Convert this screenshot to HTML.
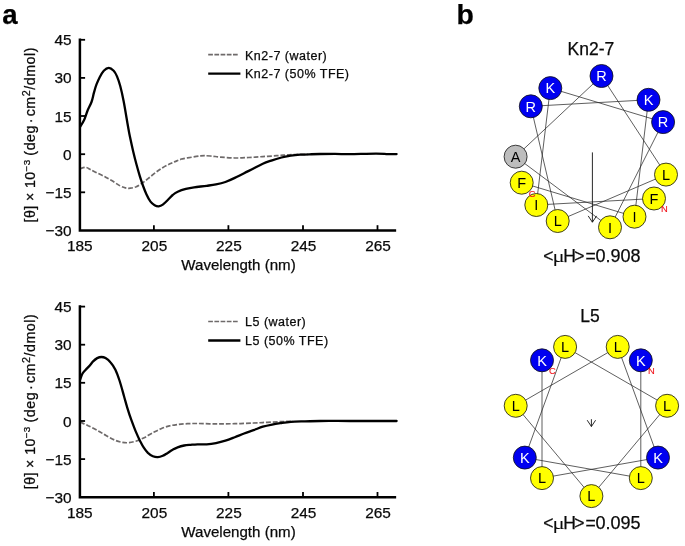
<!DOCTYPE html>
<html><head><meta charset="utf-8"><title>CD spectra and helical wheels</title>
<style>
html,body{margin:0;padding:0;background:#fff}
svg{display:block}
text{font-family:"Liberation Sans",sans-serif;fill:#0a0a0a;stroke:#0a0a0a;stroke-width:0.25px}
.t{font-size:15.4px}
.l{font-size:15.1px}
.yl{font-size:14.2px;letter-spacing:0.55px}
.g{font-size:12.5px;letter-spacing:0.5px}
.w{font-size:14.5px;stroke:none}
.nc{font-size:9.4px;fill:#f01018;stroke:#f01018;stroke-width:0.1px}
.h{font-size:17.5px}
.mu{font-family:"Liberation Serif",serif;font-size:17.5px;stroke:none}
.p{font-size:28.4px;font-weight:bold;fill:#000}
</style></head><body>
<svg width="685" height="546" viewBox="0 0 685 546">
<rect width="685" height="546" fill="#fff"/>
<text x="2.2" y="24.4" class="p" style="font-size:27.6px">a</text>
<text x="456.6" y="24.4" class="p">b</text>
<path d="M79.9 168.7C80.9 168.5 84.2 167.2 86.0 167.4C87.8 167.6 88.9 168.9 91.0 169.9C93.1 170.9 96.0 172.4 98.4 173.6C100.9 174.8 103.3 175.9 105.7 177.2C108.1 178.5 110.6 179.8 113.0 181.3C115.4 182.8 118.2 184.9 120.3 186.0C122.4 187.1 123.7 187.5 125.4 187.9C127.1 188.3 128.7 188.4 130.5 188.2C132.3 188.0 134.4 187.5 136.3 186.7C138.2 185.8 140.2 184.4 142.2 183.1C144.1 181.8 145.8 180.4 148.0 178.7C150.2 177.0 152.9 174.6 155.3 172.8C157.7 171.0 160.2 169.2 162.6 167.7C165.0 166.2 167.8 164.8 169.9 163.8C172.0 162.8 172.9 162.4 175.0 161.6C177.1 160.8 179.7 159.6 182.6 158.8C185.5 158.1 189.6 157.6 192.5 157.1C195.4 156.6 197.9 156.2 199.9 156.0C201.9 155.8 202.5 155.7 204.4 155.7C206.3 155.7 208.7 155.9 211.4 156.1C214.1 156.3 216.8 156.8 220.7 157.1C224.6 157.4 230.1 157.9 234.8 158.0C239.5 158.1 244.1 157.7 248.8 157.5C253.5 157.3 258.1 156.9 262.8 156.6C267.5 156.3 272.9 156.0 276.8 155.7C280.7 155.4 283.1 155.2 286.2 155.0C289.3 154.8 291.9 154.6 295.5 154.5C299.1 154.4 305.9 154.3 308.0 154.3" fill="none" stroke="#6e6a6a" stroke-width="1.7" stroke-dasharray="4.8 1.9"/>
<path d="M80.2 126.8C80.8 125.7 82.9 122.7 84.1 120.1C85.3 117.5 86.2 114.0 87.4 111.0C88.6 108.0 90.4 105.0 91.5 102.0C92.6 99.0 93.1 95.8 93.9 92.9C94.7 90.0 95.4 87.3 96.4 84.7C97.4 82.1 98.5 79.5 99.7 77.2C100.9 74.9 102.3 72.3 103.8 70.7C105.3 69.1 107.1 67.8 108.8 67.8C110.5 67.8 112.3 69.3 113.7 70.7C115.1 72.1 115.9 73.8 117.0 76.4C118.1 79.0 119.2 82.2 120.3 86.3C121.4 90.4 122.4 94.9 123.6 101.0C124.8 107.1 126.4 117.1 127.4 123.0C128.5 128.9 128.9 131.8 129.9 136.5C130.9 141.2 132.1 146.7 133.2 151.4C134.3 156.1 135.4 160.4 136.5 164.5C137.6 168.6 138.7 172.5 139.8 176.1C140.9 179.7 142.0 183.0 143.1 186.0C144.2 189.0 145.2 191.6 146.4 194.2C147.6 196.8 149.1 199.8 150.5 201.6C151.9 203.4 153.2 204.4 154.6 205.2C156.0 206.0 157.3 206.4 158.7 206.3C160.1 206.2 161.3 205.7 162.8 204.6C164.3 203.5 166.2 201.6 167.8 200.0C169.5 198.4 171.0 196.4 172.7 195.0C174.3 193.6 175.5 192.7 177.7 191.7C179.9 190.7 183.2 189.6 185.9 188.9C188.6 188.2 190.6 187.8 194.1 187.3C197.6 186.8 203.0 186.3 206.7 185.8C210.3 185.3 212.9 185.0 216.0 184.4C219.1 183.8 222.3 183.1 225.4 182.0C228.5 180.9 231.7 179.4 234.8 177.9C237.9 176.4 241.0 174.8 244.1 173.2C247.2 171.6 250.4 170.1 253.5 168.5C256.6 166.9 259.7 165.2 262.8 163.8C265.9 162.4 269.0 161.4 272.1 160.3C275.2 159.2 278.4 158.3 281.5 157.5C284.6 156.7 287.7 156.2 290.8 155.7C293.9 155.2 297.1 154.9 300.2 154.7C303.3 154.5 306.2 154.4 309.5 154.3C312.8 154.2 315.8 154.1 320.0 154.0C324.2 153.9 330.0 153.9 335.0 153.9C340.0 153.9 343.2 154.2 350.0 154.2C356.8 154.1 369.7 153.6 376.0 153.6C382.3 153.6 384.6 154.1 388.0 154.2C391.4 154.3 395.2 154.1 396.6 154.1" fill="none" stroke="#000" stroke-width="2.3" stroke-linejoin="round" stroke-linecap="round"/>
<path d="M79.9 39.8V230.4H394.9" fill="none" stroke="#000" stroke-width="2.5" stroke-linecap="square"/>
<path d="M79.9 39.8h5.2" stroke="#000" stroke-width="1.8"/>
<text x="71.5" y="45.3" text-anchor="end" class="t">45</text>
<path d="M79.9 77.9h5.2" stroke="#000" stroke-width="1.8"/>
<text x="71.5" y="83.4" text-anchor="end" class="t">30</text>
<path d="M79.9 116.0h5.2" stroke="#000" stroke-width="1.8"/>
<text x="71.5" y="121.5" text-anchor="end" class="t">15</text>
<path d="M79.9 154.2h5.2" stroke="#000" stroke-width="1.8"/>
<text x="71.5" y="159.7" text-anchor="end" class="t">0</text>
<path d="M79.9 192.3h5.2" stroke="#000" stroke-width="1.8"/>
<text x="71.5" y="197.8" text-anchor="end" class="t">−15</text>
<text x="71.5" y="235.9" text-anchor="end" class="t">−30</text>
<text x="79.8" y="251.4" text-anchor="middle" class="t">185</text>
<path d="M153.9 230.4v-5.2" stroke="#000" stroke-width="1.8"/>
<text x="154.4" y="251.4" text-anchor="middle" class="t">205</text>
<path d="M228.4 230.4v-5.2" stroke="#000" stroke-width="1.8"/>
<text x="228.9" y="251.4" text-anchor="middle" class="t">225</text>
<path d="M303.0 230.4v-5.2" stroke="#000" stroke-width="1.8"/>
<text x="303.5" y="251.4" text-anchor="middle" class="t">245</text>
<path d="M377.5 230.4v-5.2" stroke="#000" stroke-width="1.8"/>
<text x="378.0" y="251.4" text-anchor="middle" class="t">265</text>
<text x="238.5" y="270.0" text-anchor="middle" class="l">Wavelength (nm)</text>
<text transform="translate(34.8 222.4) rotate(-90)" class="yl" style="letter-spacing:0.4px">[θ] × 10<tspan dy="-5" font-size="9.8">−3</tspan></text>
<text transform="translate(34.8 47.0) rotate(-90)" text-anchor="end" class="yl" style="letter-spacing:0.55px">(deg · cm<tspan dy="-5" font-size="10.8">2</tspan><tspan dy="5">/dmol)</tspan></text>
<path d="M208.2 54.7h29.5" stroke="#6e6a6a" stroke-width="1.7" stroke-dasharray="4.7 1.5"/>
<path d="M208.2 73.7h32.2" stroke="#000" stroke-width="2.3"/>
<text x="245" y="59.6" class="g">Kn2-7 (water)</text>
<text x="245" y="78.3" class="g">Kn2-7 (50% TFE)</text>
<path d="M80.2 422.1C81.5 422.7 85.2 424.2 88.2 425.7C91.2 427.1 95.0 429.2 98.0 430.8C101.0 432.4 103.2 433.9 106.0 435.5C108.8 437.1 112.4 439.1 115.0 440.2C117.6 441.3 119.4 441.8 121.6 442.2C123.8 442.6 125.7 442.9 128.2 442.7C130.7 442.5 133.7 441.9 136.4 441.0C139.2 440.1 141.9 438.8 144.7 437.4C147.4 436.0 150.2 434.2 152.9 432.8C155.6 431.4 158.3 429.9 161.1 428.7C163.8 427.5 166.7 426.6 169.4 425.9C172.2 425.2 174.6 424.9 177.6 424.5C180.6 424.1 184.2 423.9 187.5 423.7C190.8 423.5 192.7 423.5 197.4 423.5C202.2 423.5 209.8 423.9 216.0 423.9C222.2 423.9 228.6 423.8 234.8 423.7C241.1 423.6 248.1 423.2 253.5 423.0C258.9 422.8 262.8 422.5 267.5 422.3C272.2 422.1 277.2 421.8 281.5 421.6C285.8 421.4 291.1 421.3 293.0 421.2" fill="none" stroke="#6e6a6a" stroke-width="1.7" stroke-dasharray="4.8 1.9"/>
<path d="M80.2 379.5C80.6 378.6 81.5 375.4 82.4 373.8C83.3 372.2 84.5 371.1 85.7 369.7C86.9 368.3 88.6 366.9 89.8 365.5C91.0 364.1 91.9 362.6 93.1 361.4C94.3 360.2 95.8 358.8 97.2 358.1C98.6 357.4 100.0 357.0 101.4 357.0C102.8 357.0 104.0 357.2 105.5 358.1C107.0 359.0 108.8 360.3 110.4 362.2C112.1 364.1 113.9 366.6 115.4 369.7C116.9 372.8 118.0 376.0 119.5 380.5C121.0 385.0 122.8 391.9 124.1 396.5C125.4 401.1 126.2 404.1 127.4 408.1C128.6 412.1 130.1 416.6 131.5 420.4C132.9 424.2 134.2 427.8 135.6 431.1C137.0 434.4 138.3 437.4 139.7 440.2C141.1 442.9 142.4 445.5 143.8 447.6C145.2 449.7 146.4 451.4 147.9 452.9C149.4 454.3 151.2 455.6 152.9 456.3C154.6 457.0 156.2 457.3 157.8 457.2C159.5 457.1 161.2 456.5 162.8 455.8C164.5 455.1 166.0 453.9 167.7 452.9C169.3 451.9 171.0 450.6 172.7 449.7C174.3 448.8 175.7 448.0 177.6 447.3C179.5 446.6 182.0 445.9 184.2 445.5C186.4 445.1 188.6 445.0 190.8 444.8C193.0 444.6 194.8 444.4 197.4 444.3C200.1 444.2 203.6 444.5 206.7 444.3C209.8 444.1 212.9 443.7 216.0 443.1C219.1 442.5 222.3 441.7 225.4 440.7C228.5 439.7 231.7 438.4 234.8 437.2C237.9 436.0 241.0 434.7 244.1 433.5C247.2 432.3 250.4 431.3 253.5 430.2C256.6 429.1 259.7 427.6 262.8 426.7C265.9 425.8 269.0 425.2 272.1 424.6C275.2 424.0 278.4 423.5 281.5 423.0C284.6 422.5 286.9 422.1 290.8 421.8C294.7 421.5 300.0 421.5 304.9 421.4C309.8 421.3 312.5 421.1 320.0 421.0C327.5 420.9 337.2 421.0 350.0 421.0C362.8 421.0 388.8 421.0 396.6 421.0" fill="none" stroke="#000" stroke-width="2.3" stroke-linejoin="round" stroke-linecap="round"/>
<path d="M79.9 306.6V497.2H394.9" fill="none" stroke="#000" stroke-width="2.5" stroke-linecap="square"/>
<path d="M79.9 306.6h5.2" stroke="#000" stroke-width="1.8"/>
<text x="71.5" y="312.1" text-anchor="end" class="t">45</text>
<path d="M79.9 344.7h5.2" stroke="#000" stroke-width="1.8"/>
<text x="71.5" y="350.2" text-anchor="end" class="t">30</text>
<path d="M79.9 382.8h5.2" stroke="#000" stroke-width="1.8"/>
<text x="71.5" y="388.3" text-anchor="end" class="t">15</text>
<path d="M79.9 421.0h5.2" stroke="#000" stroke-width="1.8"/>
<text x="71.5" y="426.5" text-anchor="end" class="t">0</text>
<path d="M79.9 459.1h5.2" stroke="#000" stroke-width="1.8"/>
<text x="71.5" y="464.6" text-anchor="end" class="t">−15</text>
<text x="71.5" y="502.7" text-anchor="end" class="t">−30</text>
<text x="79.8" y="518.2" text-anchor="middle" class="t">185</text>
<path d="M153.9 497.2v-5.2" stroke="#000" stroke-width="1.8"/>
<text x="154.4" y="518.2" text-anchor="middle" class="t">205</text>
<path d="M228.4 497.2v-5.2" stroke="#000" stroke-width="1.8"/>
<text x="228.9" y="518.2" text-anchor="middle" class="t">225</text>
<path d="M303.0 497.2v-5.2" stroke="#000" stroke-width="1.8"/>
<text x="303.5" y="518.2" text-anchor="middle" class="t">245</text>
<path d="M377.5 497.2v-5.2" stroke="#000" stroke-width="1.8"/>
<text x="378.0" y="518.2" text-anchor="middle" class="t">265</text>
<text x="238.5" y="536.8" text-anchor="middle" class="l">Wavelength (nm)</text>
<text transform="translate(34.8 489.2) rotate(-90)" class="yl" style="letter-spacing:0.4px">[θ] × 10<tspan dy="-5" font-size="9.8">−3</tspan></text>
<text transform="translate(34.8 313.8) rotate(-90)" text-anchor="end" class="yl" style="letter-spacing:0.55px">(deg · cm<tspan dy="-5" font-size="10.8">2</tspan><tspan dy="5">/dmol)</tspan></text>
<path d="M208.2 321.5h29.5" stroke="#6e6a6a" stroke-width="1.7" stroke-dasharray="4.7 1.5"/>
<path d="M208.2 340.5h32.2" stroke="#000" stroke-width="2.3"/>
<text x="245" y="326.4" class="g">L5 (water)</text>
<text x="245" y="345.1" class="g">L5 (50% TFE)</text>
<path d="M654.0 198.5L536.3 205.0L550.3 88.1L663.1 122.1L610.0 227.3L515.6 156.7L601.5 76.0L666.0 174.6L557.7 221.0L530.8 106.3L648.5 99.8L634.5 216.7L521.7 182.7" fill="none" stroke="#2a2a2a" stroke-width="0.75" stroke-linejoin="round"/>
<path d="M592.4 152.4V222.2M588.2 215.9L592.4 222.2L596.6 215.9" fill="none" stroke="#111" stroke-width="0.9"/>
<circle cx="654.0" cy="198.5" r="11.5" fill="#ffff00" stroke="#111" stroke-width="0.8"/>
<text x="654.0" y="203.7" text-anchor="middle" class="w" style="fill:#000">F</text>
<circle cx="536.3" cy="205.0" r="11.5" fill="#ffff00" stroke="#111" stroke-width="0.8"/>
<text x="536.3" y="210.2" text-anchor="middle" class="w" style="fill:#000">I</text>
<circle cx="550.3" cy="88.1" r="11.5" fill="#0000f0" stroke="#111" stroke-width="0.8"/>
<text x="550.3" y="93.3" text-anchor="middle" class="w" style="fill:#fff">K</text>
<circle cx="663.1" cy="122.1" r="11.5" fill="#0000f0" stroke="#111" stroke-width="0.8"/>
<text x="663.1" y="127.3" text-anchor="middle" class="w" style="fill:#fff">R</text>
<circle cx="610.0" cy="227.3" r="11.5" fill="#ffff00" stroke="#111" stroke-width="0.8"/>
<text x="610.0" y="232.5" text-anchor="middle" class="w" style="fill:#000">I</text>
<circle cx="515.6" cy="156.7" r="11.5" fill="#bdbdbd" stroke="#111" stroke-width="0.8"/>
<text x="515.6" y="161.9" text-anchor="middle" class="w" style="fill:#000">A</text>
<circle cx="601.5" cy="76.0" r="11.5" fill="#0000f0" stroke="#111" stroke-width="0.8"/>
<text x="601.5" y="81.2" text-anchor="middle" class="w" style="fill:#fff">R</text>
<circle cx="666.0" cy="174.6" r="11.5" fill="#ffff00" stroke="#111" stroke-width="0.8"/>
<text x="666.0" y="179.8" text-anchor="middle" class="w" style="fill:#000">L</text>
<circle cx="557.7" cy="221.0" r="11.5" fill="#ffff00" stroke="#111" stroke-width="0.8"/>
<text x="557.7" y="226.2" text-anchor="middle" class="w" style="fill:#000">L</text>
<circle cx="530.8" cy="106.3" r="11.5" fill="#0000f0" stroke="#111" stroke-width="0.8"/>
<text x="530.8" y="111.5" text-anchor="middle" class="w" style="fill:#fff">R</text>
<circle cx="648.5" cy="99.8" r="11.5" fill="#0000f0" stroke="#111" stroke-width="0.8"/>
<text x="648.5" y="105.0" text-anchor="middle" class="w" style="fill:#fff">K</text>
<circle cx="634.5" cy="216.7" r="11.5" fill="#ffff00" stroke="#111" stroke-width="0.8"/>
<text x="634.5" y="221.9" text-anchor="middle" class="w" style="fill:#000">I</text>
<circle cx="521.7" cy="182.7" r="11.5" fill="#ffff00" stroke="#111" stroke-width="0.8"/>
<text x="521.7" y="187.9" text-anchor="middle" class="w" style="fill:#000">F</text>
<text x="664.5" y="212.3" text-anchor="middle" class="nc">N</text>
<text x="532.2" y="196.5" text-anchor="middle" class="nc">C</text>
<text x="590.9" y="54.8" text-anchor="middle" class="h">Kn2-7</text>
<text y="261.8" class="h"><tspan x="543.2">&lt;</tspan><tspan x="563.2">H</tspan><tspan x="574.2">&gt;</tspan><tspan x="585.4">=</tspan><tspan x="595.4" font-size="18">0.908</tspan></text>
<text transform="translate(552.6 261.8) scale(1.3 1)" class="mu">μ</text>
<path d="M640.8 360.3L640.8 478.1L524.8 457.6L565.1 346.9L667.1 405.8L591.4 496.1L515.7 405.8L617.7 346.9L658.0 457.6L542.0 478.1L542.0 360.3" fill="none" stroke="#2a2a2a" stroke-width="0.75" stroke-linejoin="round"/>
<path d="M591.4 419.2V426.5M587.2 420.2L591.4 426.5L595.6 420.2" fill="none" stroke="#111" stroke-width="0.9"/>
<circle cx="640.8" cy="360.3" r="11.5" fill="#0000f0" stroke="#111" stroke-width="0.8"/>
<text x="640.8" y="365.5" text-anchor="middle" class="w" style="fill:#fff">K</text>
<circle cx="640.8" cy="478.1" r="11.5" fill="#ffff00" stroke="#111" stroke-width="0.8"/>
<text x="640.8" y="483.3" text-anchor="middle" class="w" style="fill:#000">L</text>
<circle cx="524.8" cy="457.6" r="11.5" fill="#0000f0" stroke="#111" stroke-width="0.8"/>
<text x="524.8" y="462.8" text-anchor="middle" class="w" style="fill:#fff">K</text>
<circle cx="565.1" cy="346.9" r="11.5" fill="#ffff00" stroke="#111" stroke-width="0.8"/>
<text x="565.1" y="352.1" text-anchor="middle" class="w" style="fill:#000">L</text>
<circle cx="667.1" cy="405.8" r="11.5" fill="#ffff00" stroke="#111" stroke-width="0.8"/>
<text x="667.1" y="411.0" text-anchor="middle" class="w" style="fill:#000">L</text>
<circle cx="591.4" cy="496.1" r="11.5" fill="#ffff00" stroke="#111" stroke-width="0.8"/>
<text x="591.4" y="501.3" text-anchor="middle" class="w" style="fill:#000">L</text>
<circle cx="515.7" cy="405.8" r="11.5" fill="#ffff00" stroke="#111" stroke-width="0.8"/>
<text x="515.7" y="411.0" text-anchor="middle" class="w" style="fill:#000">L</text>
<circle cx="617.7" cy="346.9" r="11.5" fill="#ffff00" stroke="#111" stroke-width="0.8"/>
<text x="617.7" y="352.1" text-anchor="middle" class="w" style="fill:#000">L</text>
<circle cx="658.0" cy="457.6" r="11.5" fill="#0000f0" stroke="#111" stroke-width="0.8"/>
<text x="658.0" y="462.8" text-anchor="middle" class="w" style="fill:#fff">K</text>
<circle cx="542.0" cy="478.1" r="11.5" fill="#ffff00" stroke="#111" stroke-width="0.8"/>
<text x="542.0" y="483.3" text-anchor="middle" class="w" style="fill:#000">L</text>
<circle cx="542.0" cy="360.3" r="11.5" fill="#0000f0" stroke="#111" stroke-width="0.8"/>
<text x="542.0" y="365.5" text-anchor="middle" class="w" style="fill:#fff">K</text>
<text x="651.3" y="374.1" text-anchor="middle" class="nc">N</text>
<text x="552.5" y="374.1" text-anchor="middle" class="nc">C</text>
<text x="589.9" y="322.0" text-anchor="middle" class="h">L5</text>
<text y="528.8" class="h"><tspan x="543.2">&lt;</tspan><tspan x="563.2">H</tspan><tspan x="574.2">&gt;</tspan><tspan x="585.4">=</tspan><tspan x="595.4" font-size="18">0.095</tspan></text>
<text transform="translate(552.6 528.8) scale(1.3 1)" class="mu">μ</text>
</svg>
</body></html>
